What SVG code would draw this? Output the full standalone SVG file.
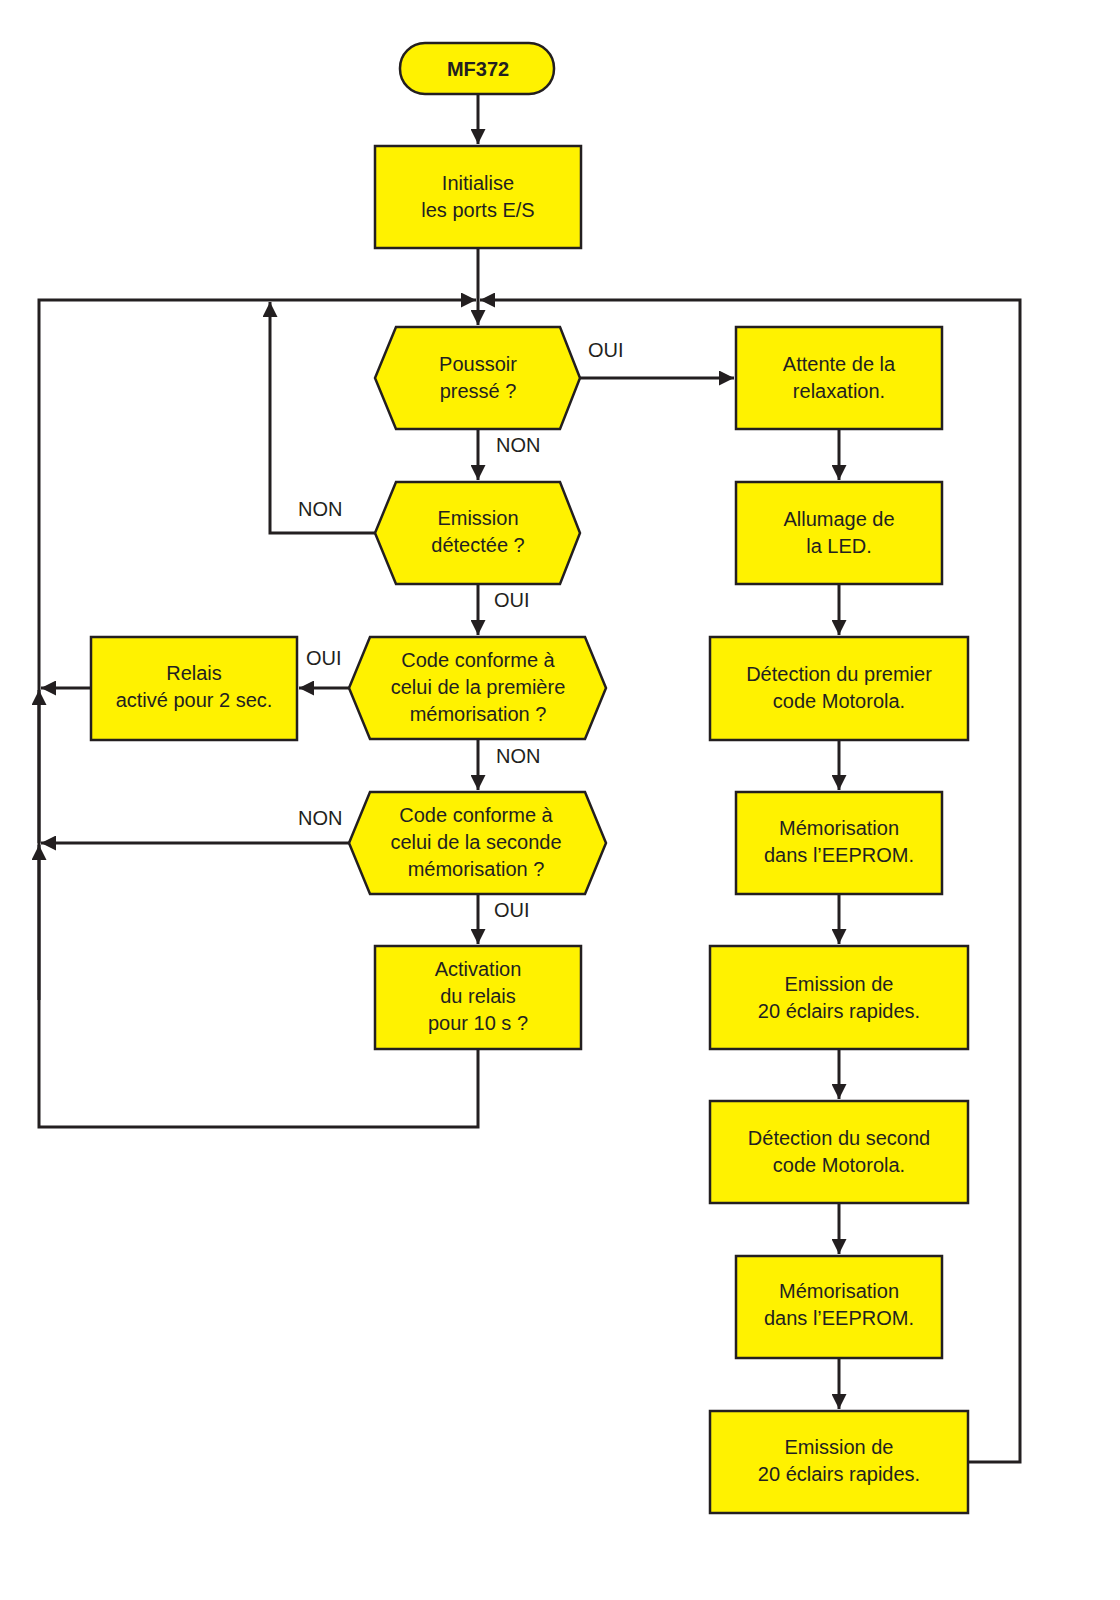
<svg xmlns="http://www.w3.org/2000/svg" width="1120" height="1600" viewBox="0 0 1120 1600">
<style>
.n{fill:#fff200;stroke:#231f20;stroke-width:2.5}
.t{font-family:"Liberation Sans",Arial,sans-serif;font-size:20px;fill:#231f20;text-anchor:middle}
.l{font-family:"Liberation Sans",Arial,sans-serif;font-size:20px;fill:#231f20}
.c{fill:none;stroke:#231f20;stroke-width:3}
</style>
<defs>
<marker id="a" viewBox="0 0 10 10" refX="10" refY="5" markerWidth="6" markerHeight="5" markerUnits="strokeWidth" orient="auto"><path d="M0,0L10,5L0,10z" fill="#231f20"/></marker>
</defs>
<rect width="1120" height="1600" fill="#fff"/>
<g id="connectors">
<path class="c" d="M478,94V144" marker-end="url(#a)"/>
<path class="c" d="M478,248V325" marker-end="url(#a)"/>
<path class="c" d="M478,429V480" marker-end="url(#a)"/>
<path class="c" d="M478,584V635" marker-end="url(#a)"/>
<path class="c" d="M478,739V790" marker-end="url(#a)"/>
<path class="c" d="M478,894V944" marker-end="url(#a)"/>
<path class="c" d="M580,378H734" marker-end="url(#a)"/>
<path class="c" d="M375,533H270V302" marker-end="url(#a)"/>
<path class="c" d="M349,688H299" marker-end="url(#a)"/>
<path class="c" d="M91,688H41" marker-end="url(#a)"/>
<path class="c" d="M349,843H41" marker-end="url(#a)"/>
<path class="c" d="M478,1049V1127H39V690" marker-end="url(#a)"/>
<path class="c" d="M39,843V690"/>
<path class="c" d="M39,845V845" />
<path class="c" d="M39,1000V845" marker-end="url(#a)"/>
<path class="c" d="M39,690V300H476" marker-end="url(#a)"/>
<path class="c" d="M968,1462H1020V300H480" marker-end="url(#a)"/>
<path class="c" d="M839,429V480" marker-end="url(#a)"/>
<path class="c" d="M839,584V635" marker-end="url(#a)"/>
<path class="c" d="M839,740V790" marker-end="url(#a)"/>
<path class="c" d="M839,894V944" marker-end="url(#a)"/>
<path class="c" d="M839,1049V1099" marker-end="url(#a)"/>
<path class="c" d="M839,1203V1254" marker-end="url(#a)"/>
<path class="c" d="M839,1358V1409" marker-end="url(#a)"/>
</g>
<g id="start"><rect class="n" x="400" y="43" width="154" height="51" rx="25"/><text class="t" x="478" y="76" font-weight="bold">MF372</text></g>
<g id="init"><rect class="n" x="375" y="146" width="206" height="102"/><text class="t" x="478" y="190">Initialise</text><text class="t" x="478" y="217">les ports E/S</text></g>
<g id="poussoir"><polygon class="n" points="396,327 560,327 580,378 560,429 396,429 375,378"/><text class="t" x="478" y="371">Poussoir</text><text class="t" x="478" y="398">pressé ?</text></g>
<g id="emission"><polygon class="n" points="396,482 560,482 580,533 560,584 396,584 375,533"/><text class="t" x="478" y="525">Emission</text><text class="t" x="478" y="552">détectée ?</text></g>
<g id="code1"><polygon class="n" points="370,637 585,637 606,688 585,739 370,739 349,688"/><text class="t" x="478" y="667">Code conforme à</text><text class="t" x="478" y="694">celui de la première</text><text class="t" x="478" y="721">mémorisation ?</text></g>
<g id="code2"><polygon class="n" points="370,792 585,792 606,843 585,894 370,894 349,843"/><text class="t" x="476" y="822">Code conforme à</text><text class="t" x="476" y="849">celui de la seconde</text><text class="t" x="476" y="876">mémorisation ?</text></g>
<g id="activation"><rect class="n" x="375" y="946" width="206" height="103"/><text class="t" x="478" y="976">Activation</text><text class="t" x="478" y="1003">du relais</text><text class="t" x="478" y="1030">pour 10 s ?</text></g>
<g id="relais"><rect class="n" x="91" y="637" width="206" height="103"/><text class="t" x="194" y="680">Relais</text><text class="t" x="194" y="707">activé pour 2 sec.</text></g>
<g id="attente"><rect class="n" x="736" y="327" width="206" height="102"/><text class="t" x="839" y="371">Attente de la</text><text class="t" x="839" y="398">relaxation.</text></g>
<g id="allumage"><rect class="n" x="736" y="482" width="206" height="102"/><text class="t" x="839" y="526">Allumage de</text><text class="t" x="839" y="553">la LED.</text></g>
<g id="det1"><rect class="n" x="710" y="637" width="258" height="103"/><text class="t" x="839" y="681">Détection du premier</text><text class="t" x="839" y="708">code Motorola.</text></g>
<g id="mem1"><rect class="n" x="736" y="792" width="206" height="102"/><text class="t" x="839" y="835">Mémorisation</text><text class="t" x="839" y="862">dans l’EEPROM.</text></g>
<g id="em1"><rect class="n" x="710" y="946" width="258" height="103"/><text class="t" x="839" y="991">Emission de</text><text class="t" x="839" y="1018">20 éclairs rapides.</text></g>
<g id="det2"><rect class="n" x="710" y="1101" width="258" height="102"/><text class="t" x="839" y="1145">Détection du second</text><text class="t" x="839" y="1172">code Motorola.</text></g>
<g id="mem2"><rect class="n" x="736" y="1256" width="206" height="102"/><text class="t" x="839" y="1298">Mémorisation</text><text class="t" x="839" y="1325">dans l’EEPROM.</text></g>
<g id="em2"><rect class="n" x="710" y="1411" width="258" height="102"/><text class="t" x="839" y="1454">Emission de</text><text class="t" x="839" y="1481">20 éclairs rapides.</text></g>
<g id="labels">
<text class="l" x="588" y="357">OUI</text>
<text class="l" x="496" y="452">NON</text>
<text class="l" x="298" y="516">NON</text>
<text class="l" x="494" y="607">OUI</text>
<text class="l" x="306" y="665">OUI</text>
<text class="l" x="496" y="763">NON</text>
<text class="l" x="298" y="825">NON</text>
<text class="l" x="494" y="917">OUI</text>
</g>
</svg>
